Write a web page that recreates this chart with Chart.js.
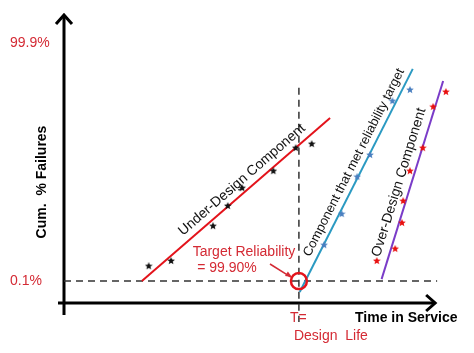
<!DOCTYPE html>
<html lang="en">
<head>
  <meta charset="utf-8" />
  <title>Reliability vs Time in Service</title>
  <script src="https://cdn.jsdelivr.net/npm/chart.js"></script>
  <style>
    body { margin: 0; background: #fff; }
    #chart { display: block; }
  </style>
</head>
<body>
  <canvas id="chart" width="474" height="353"></canvas>

  <script>
    // data in arbitrary units: x = time in service (0-100), y = probability-plot height (0-100)
    const yTickValues = [7.6, 90.3];
    const yTickLabels = ['0.1%', '99.9%'];
    const designLife = 58.8;

    const underLine = [{ x: 19.5, y: 7.6 }, { x: 66.6, y: 64.2 }];
    const underStars = [
      { x: 21.2, y: 12.8 }, { x: 26.8, y: 14.6 }, { x: 37.3, y: 26.7 }, { x: 41.0, y: 33.7 },
      { x: 44.6, y: 39.9 }, { x: 52.4, y: 45.8 }, { x: 58.0, y: 53.8 }, { x: 62.0, y: 55.2 }
    ];

    const metLine = [{ x: 59.0, y: 3.8 }, { x: 87.3, y: 81.3 }];
    const metStars = [
      { x: 65.1, y: 20.1 }, { x: 69.5, y: 30.9 }, { x: 73.4, y: 43.8 },
      { x: 76.6, y: 51.4 }, { x: 82.2, y: 70.1 }, { x: 86.6, y: 74.0 }
    ];

    const overLine = [{ x: 79.5, y: 8.3 }, { x: 94.9, y: 77.1 }];
    const overStars = [
      { x: 78.3, y: 14.6 }, { x: 82.9, y: 18.8 }, { x: 84.6, y: 27.8 }, { x: 84.9, y: 35.4 },
      { x: 86.6, y: 45.8 }, { x: 89.8, y: 53.8 }, { x: 92.4, y: 68.1 }, { x: 95.6, y: 73.3 }
    ];

    const targetLine = [{ x: 0, y: 7.6 }, { x: 93.4, y: 7.6 }];
    const lifeLine = [{ x: designLife, y: 74.7 }, { x: designLife, y: -6.6 }];
    const targetPoint = [{ x: designLife, y: 7.6 }];

    const RED = '#d42a34';

    // filled five point star used as point style
    function makeStar(color, size) {
      const c = document.createElement('canvas');
      c.width = size; c.height = size;
      const g = c.getContext('2d');
      const r = size / 2, r2 = r * 0.45;
      g.beginPath();
      for (let i = 0; i < 10; i++) {
        const a = -Math.PI / 2 + i * Math.PI / 5;
        const rr = i % 2 ? r2 : r;
        g.lineTo(r + rr * Math.cos(a), r + rr * Math.sin(a));
      }
      g.closePath();
      g.fillStyle = color;
      g.fill();
      return c;
    }

    function lineSet(data, color, dash) {
      return {
        type: 'line', data: data, borderColor: color, borderWidth: dash ? 1.5 : 2,
        borderDash: dash || [], pointRadius: 0, clip: false, order: 2
      };
    }
    function starSet(data, color) {
      return {
        type: 'scatter', data: data, pointStyle: makeStar(color, 8), pointRadius: 4,
        clip: false, order: 1
      };
    }

    // draws arrow axes, texts and the note arrow
    const decorations = {
      id: 'decorations',
      beforeDatasetsDraw(chart) {
        const { ctx, scales: { x, y } } = chart;
        ctx.save();
        ctx.strokeStyle = '#000';
        ctx.lineWidth = 3;
        ctx.lineCap = 'butt';
        const x0 = x.getPixelForValue(0), y0 = y.getPixelForValue(0);
        const xEnd = x.getPixelForValue(92.9), yEnd = y.getPixelForValue(100);
        ctx.beginPath();
        ctx.moveTo(x.getPixelForValue(-1.5), y0); ctx.lineTo(xEnd, y0);
        ctx.moveTo(x0, y.getPixelForValue(-4.2)); ctx.lineTo(x0, yEnd);
        ctx.stroke();
        ctx.lineJoin = 'miter';
        ctx.beginPath();
        ctx.moveTo(xEnd - 9, y0 - 8); ctx.lineTo(xEnd, y0); ctx.lineTo(xEnd - 9, y0 + 8);
        ctx.moveTo(x0 - 8, yEnd + 9); ctx.lineTo(x0, yEnd); ctx.lineTo(x0 + 8, yEnd + 9);
        ctx.stroke();
        ctx.restore();
      },
      afterDatasetsDraw(chart) {
        const { ctx, scales: { x, y } } = chart;
        ctx.save();
        ctx.textBaseline = 'middle';

        // y tick labels
        ctx.fillStyle = RED;
        ctx.font = '14px Arial, "Liberation Sans"';
        ctx.textAlign = 'left';
        yTickValues.forEach((v, i) => ctx.fillText(yTickLabels[i], 10, y.getPixelForValue(v)));

        // axis titles
        ctx.fillStyle = '#000';
        ctx.font = 'bold 14px Arial, "Liberation Sans"';
        ctx.save();
        ctx.translate(42, 182);
        ctx.rotate(-Math.PI / 2);
        ctx.textAlign = 'center';
        ctx.fillText('Cum.  % Failures', 0, 0);
        ctx.restore();
        ctx.textAlign = 'left';
        ctx.fillText('Time in Service', 355, 318);

        // design life label
        ctx.fillStyle = RED;
        ctx.font = '14px Arial, "Liberation Sans"';
        const tx = x.getPixelForValue(designLife);
        ctx.fillText('T=', tx - 9, 318);
        ctx.fillText('Design  Life', tx - 5, 336);

        // target reliability note
        ctx.textAlign = 'center';
        ctx.fillText('Target Reliability', 244, 252);
        ctx.fillText('= 99.90%', 227, 268);
        const cx = tx, cy = y.getPixelForValue(7.6);
        ctx.strokeStyle = RED;
        ctx.fillStyle = RED;
        ctx.lineWidth = 1.5;
        ctx.beginPath();
        ctx.moveTo(270, 264); ctx.lineTo(cx - 8, cy - 4);
        ctx.stroke();
        const ang = Math.atan2(cy - 4 - 264, cx - 8 - 270);
        ctx.beginPath();
        ctx.moveTo(cx - 7, cy - 4);
        ctx.lineTo(cx - 7 - 7 * Math.cos(ang - 0.4), cy - 4 - 7 * Math.sin(ang - 0.4));
        ctx.lineTo(cx - 7 - 7 * Math.cos(ang + 0.4), cy - 4 - 7 * Math.sin(ang + 0.4));
        ctx.closePath();
        ctx.fill();

        // labels along fitted lines
        const along = (dsIndex, t, offset, text, font) => {
          const pts = chart.getDatasetMeta(dsIndex).data;
          const a = pts[0], b = pts[1];
          const px = a.x + (b.x - a.x) * t, py = a.y + (b.y - a.y) * t;
          const angle = Math.atan2(b.y - a.y, b.x - a.x);
          ctx.save();
          ctx.translate(px, py);
          ctx.rotate(angle);
          ctx.font = font;
          ctx.fillStyle = '#111';
          ctx.textAlign = 'center';
          ctx.textBaseline = 'middle';
          ctx.fillText(text, 0, -offset);
          ctx.restore();
        };
        along(0, 0.57, 11, 'Under-Design Component', '14px Arial, "Liberation Sans"');
        along(2, 0.56, 10, 'Component that met reliability target', '13px Arial, "Liberation Sans"');
        along(4, 0.47, 12, 'Over-Design Component', '14px Arial, "Liberation Sans"');
        ctx.restore();
      }
    };

    new Chart(document.getElementById('chart'), {
      data: {
        datasets: [
          lineSet(underLine, '#e3131b'),
          starSet(underStars, '#111'),
          lineSet(metLine, '#2b9ac2'),
          starSet(metStars, '#4a7fc0'),
          lineSet(overLine, '#7a3cc8'),
          starSet(overStars, '#e81010'),
          lineSet(targetLine, '#333', [7, 5]),
          lineSet(lifeLine, '#333', [7, 5]),
          {
            type: 'scatter', data: targetPoint, pointStyle: 'circle', pointRadius: 8,
            borderColor: '#e3131b', borderWidth: 2.5, backgroundColor: 'rgba(255,255,255,0)',
            clip: false, order: 0
          }
        ]
      },
      options: {
        responsive: false,
        devicePixelRatio: 1,
        animation: false,
        layout: { padding: { left: 64, right: 0, top: 15, bottom: 50 } },
        scales: {
          x: { type: 'linear', min: 0, max: 100, display: false },
          y: { type: 'linear', min: 0, max: 100, display: false }
        },
        plugins: { legend: { display: false }, tooltip: { enabled: false } }
      },
      plugins: [decorations]
    });
  </script>
</body>
</html>
